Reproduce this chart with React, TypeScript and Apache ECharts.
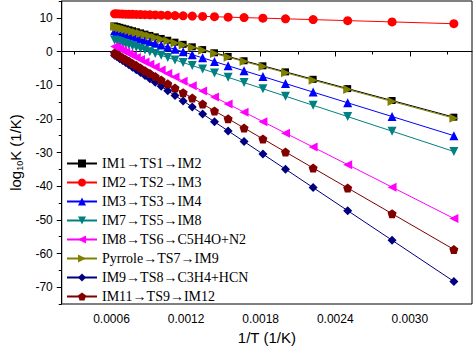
import React, { useEffect, useRef } from "react";
import * as echarts from "echarts";

// Temperatures (K); x = 1/T
const temps = [298.15, 350, 400, 450, 500, 550, 600, 650, 700, 750, 800, 850, 900, 950, 1000,
  1050, 1100, 1150, 1200, 1250, 1300, 1350, 1400, 1450, 1500, 1550, 1600];

const im1ts1 = [-19.5, -14.56, -11.02, -8.26, -6.05, -4.25, -2.75, -1.47, -0.38, 0.57, 1.39, 2.13, 2.77, 3.35, 3.88,
  4.35, 4.78, 5.17, 5.53, 5.86, 6.17, 6.45, 6.72, 6.95, 7.18, 7.4, 7.6];
const im2ts2 = [8.25, 8.79, 9.17, 9.47, 9.71, 9.91, 10.07, 10.21, 10.33, 10.43, 10.52, 10.6, 10.67, 10.74, 10.79,
  10.85, 10.89, 10.94, 10.98, 11.01, 11.04, 11.07, 11.1, 11.13, 11.15, 11.18, 11.2];
const im3ts3 = [-25.0, -19.32, -15.24, -12.06, -9.52, -7.44, -5.71, -4.24, -2.99, -1.89, -0.95, -0.1, 0.64, 1.31, 1.91,
  2.46, 2.95, 3.4, 3.82, 4.2, 4.55, 4.87, 5.18, 5.46, 5.72, 5.97, 6.2];
const im7ts5 = [-29.7, -23.67, -19.34, -15.97, -13.28, -11.07, -9.24, -7.67, -6.35, -5.19, -4.18, -3.28, -2.49, -1.79, -1.15,
  -0.57, -0.04, 0.43, 0.88, 1.28, 1.65, 1.99, 2.32, 2.61, 2.89, 3.16, 3.4];
const im8ts6 = [-49.6, -40.29, -33.61, -28.4, -24.25, -20.84, -18.01, -15.6, -13.55, -11.76, -10.2, -8.82, -7.6, -6.51, -5.52,
  -4.62, -3.82, -3.09, -2.39, -1.78, -1.2, -0.67, -0.17, 0.28, 0.71, 1.13, 1.5];
const pyrrole = [-19.8, -14.84, -11.29, -8.52, -6.3, -4.49, -2.99, -1.7, -0.61, 0.34, 1.17, 1.91, 2.55, 3.13, 3.67,
  4.14, 4.57, 4.96, 5.32, 5.65, 5.96, 6.24, 6.51, 6.75, 6.98, 7.2, 7.4];
const im9ts8 = [-68.3, -56.06, -47.27, -40.43, -34.96, -30.48, -26.76, -23.58, -20.9, -18.53, -16.49, -14.67, -13.07, -11.64, -10.33,
  -9.15, -8.09, -7.13, -6.22, -5.41, -4.65, -3.96, -3.29, -2.7, -2.13, -1.59, -1.1];
const im11ts9 = [-58.8, -48.17, -40.54, -34.6, -29.85, -25.96, -22.73, -19.97, -17.64, -15.59, -13.81, -12.23, -10.84, -9.6, -8.47,
  -7.44, -6.52, -5.69, -4.9, -4.19, -3.53, -2.93, -2.35, -1.84, -1.35, -0.88, -0.45];

const xMajorTicks = [0.0006, 0.0012, 0.0018, 0.0024, 0.003];
const xMinorTicks = [0.0003, 0.0009, 0.0015, 0.0021, 0.0027, 0.0033];
const yMajorTicks = [10, 0, -10, -20, -30, -40, -50, -60, -70];

const names = [
  "IM1→TS1→IM2",
  "IM2→TS2→IM3",
  "IM3→TS3→IM4",
  "IM7→TS5→IM8",
  "IM8→TS6→C5H4O+N2",
  "Pyrrole→TS7→IM9",
  "IM9→TS8→C3H4+HCN",
  "IM11→TS9→IM12",
];
const seriesValues = [im1ts1, im2ts2, im3ts3, im7ts5, im8ts6, pyrrole, im9ts8, im11ts9];
const colors = ["#000000", "#ff0000", "#0000ff", "#008080", "#ff00ff", "#808000", "#000080", "#800000"];
const pentagon = "path://M0,-1 L0.951,-0.309 L0.588,0.809 L-0.588,0.809 L-0.951,-0.309 Z";
const symbols = ["rect", "circle", "triangle", "triangle", "triangle", "triangle", "diamond", pentagon];
const rotations = [0, 0, 0, 180, 90, -90, 0, 0];
const sizes = [7, 9, 9, 9, 9, 9, 9, 9];

const sans = '"Liberation Sans", Arial, sans-serif';
const serif = '"Liberation Serif", "Times New Roman", serif';

export default function App() {
  const ref = useRef<HTMLDivElement>(null);
  useEffect(() => {
    if (!ref.current) return;
    const chart = echarts.init(ref.current, undefined, { renderer: "svg" });
    const axisCommon = {
      axisLine: { show: true, lineStyle: { color: "#000", width: 1 } },
      splitLine: { show: false },
    };
    chart.setOption({
      animation: false,
      backgroundColor: "#fff",
      grid: { left: 54, right: 2, top: 1, bottom: 41, show: true, borderColor: "#000", borderWidth: 1 },
      legend: {
        orient: "vertical",
        left: 61,
        top: 151,
        itemWidth: 30,
        itemHeight: 10,
        itemGap: 4,
        textStyle: { fontFamily: serif, fontSize: 14, color: "#000", lineHeight: 15 },
        data: names,
      },
      xAxis: [
        {
          type: "value",
          min: 0.0002,
          max: 0.0035,
          ...axisCommon,
          axisTick: { show: true, length: 5, customValues: xMajorTicks, lineStyle: { color: "#000" } },
          axisLabel: {
            customValues: xMajorTicks,
            formatter: (v: number) => v.toFixed(4),
            fontFamily: sans,
            fontSize: 12,
            color: "#000",
            margin: 9,
          },
          name: "1/T (1/K)",
          nameLocation: "middle",
          nameGap: 26,
          nameTextStyle: { fontFamily: sans, fontSize: 15, color: "#000" },
        },
        {
          type: "value",
          min: 0.0002,
          max: 0.0035,
          position: "bottom",
          axisLine: { show: false },
          splitLine: { show: false },
          axisTick: { show: true, length: 3, customValues: xMinorTicks, lineStyle: { color: "#000" } },
          axisLabel: { show: false },
        },
      ],
      yAxis: [
        {
          type: "value",
          min: -75,
          max: 15,
          ...axisCommon,
          axisTick: { show: true, length: 5, customValues: yMajorTicks, lineStyle: { color: "#000" } },
          axisLabel: {
            customValues: yMajorTicks,
            fontFamily: sans,
            fontSize: 12,
            color: "#000",
            margin: 9,
          },
          name: "{a|log}{s|10}{a|K (1/K)}",
          nameLocation: "middle",
          nameGap: 35,
          nameTextStyle: {
            fontFamily: sans,
            fontSize: 15,
            color: "#000",
            rich: {
              a: { fontFamily: sans, fontSize: 15, color: "#000", lineHeight: 18, verticalAlign: "middle" },
              s: { fontFamily: sans, fontSize: 9, color: "#000", lineHeight: 9, verticalAlign: "bottom" },
            },
          },
        },
        {
          type: "value",
          min: -75,
          max: 15,
          interval: 5,
          position: "left",
          axisLine: { show: false },
          splitLine: { show: false },
          axisTick: { show: true, length: 3, lineStyle: { color: "#000" } },
          axisLabel: { show: false },
        },
      ],
      series: names.map((name, i) => ({
        name,
        type: "line",
        xAxisIndex: 0,
        yAxisIndex: 0,
        data: temps.map((t, j) => [1 / t, seriesValues[i][j]]),
        symbol: symbols[i],
        symbolSize: sizes[i],
        symbolRotate: rotations[i],
        showAllSymbol: true,
        itemStyle: { color: colors[i] },
        lineStyle: { color: colors[i], width: 1 },
      })),
    });
    return () => chart.dispose();
  }, []);
  return <div ref={ref} style={{ position: "absolute", left: 0, top: 0, width: 474, height: 350 }} />;
}
